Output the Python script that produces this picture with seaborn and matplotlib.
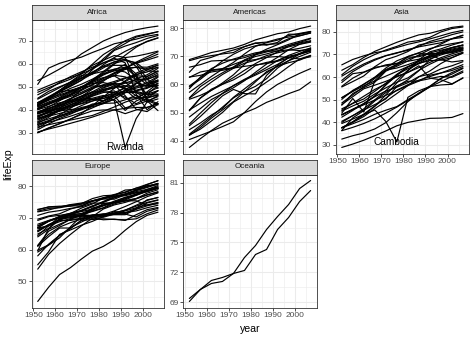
import numpy as np
import pandas as pd
import matplotlib
matplotlib.use("Agg")
import matplotlib.pyplot as plt
import seaborn as sns
from matplotlib.ticker import FixedLocator

years = [1952, 1957, 1962, 1967, 1972, 1977, 1982, 1987, 1992, 1997, 2002, 2007]

africa_countries = ["Algeria", "Angola", "Benin", "Botswana", "Burkina Faso", "Burundi", "Cameroon",
    "Central African Republic", "Chad", "Comoros", "Congo, Dem. Rep.", "Congo, Rep.", "Cote d'Ivoire",
    "Djibouti", "Egypt", "Equatorial Guinea", "Eritrea", "Ethiopia", "Gabon", "Gambia", "Ghana", "Guinea",
    "Guinea-Bissau", "Kenya", "Lesotho", "Liberia", "Libya", "Madagascar", "Malawi", "Mali", "Mauritania",
    "Mauritius", "Morocco", "Mozambique", "Namibia", "Niger", "Nigeria", "Reunion", "Rwanda",
    "Sao Tome and Principe", "Senegal", "Sierra Leone", "Somalia", "South Africa", "Sudan", "Swaziland",
    "Tanzania", "Togo", "Tunisia", "Uganda", "Zambia", "Zimbabwe"]
africa_lifeexp = [
    [43.1, 45.7, 48.3, 51.4, 54.5, 58.0, 61.4, 65.8, 67.7, 69.2, 71.0, 72.3],
    [30.0, 32.0, 34.0, 36.0, 37.9, 39.5, 39.9, 39.9, 40.6, 41.0, 41.0, 42.7],
    [38.2, 40.4, 42.6, 44.9, 47.0, 49.2, 50.9, 52.3, 53.9, 54.8, 54.4, 56.7],
    [47.6, 49.6, 51.5, 53.3, 56.0, 59.3, 61.5, 63.6, 62.7, 52.6, 46.6, 50.7],
    [32.0, 34.9, 37.8, 40.7, 43.6, 46.1, 48.1, 49.6, 50.3, 50.3, 50.7, 52.3],
    [39.0, 40.5, 42.0, 43.5, 44.1, 45.9, 47.5, 48.2, 44.7, 45.3, 47.4, 49.6],
    [38.5, 40.4, 42.6, 44.8, 47.0, 49.4, 53.0, 55.0, 54.3, 52.2, 49.9, 50.4],
    [35.5, 37.5, 39.5, 41.5, 43.5, 46.8, 48.3, 50.5, 49.4, 46.1, 43.3, 44.7],
    [38.1, 39.9, 41.7, 43.6, 45.6, 47.4, 49.5, 51.1, 51.7, 51.6, 50.5, 50.7],
    [40.7, 42.5, 44.5, 46.5, 48.9, 50.9, 52.9, 54.9, 57.9, 60.7, 63.0, 65.2],
    [39.1, 40.7, 42.1, 44.1, 46.0, 47.8, 47.8, 47.4, 45.5, 42.6, 45.0, 46.5],
    [42.1, 45.1, 48.4, 52.0, 54.9, 55.6, 56.7, 57.5, 56.4, 53.0, 53.0, 55.3],
    [40.5, 42.5, 44.9, 47.4, 49.8, 52.4, 54.0, 54.7, 52.0, 48.0, 46.8, 48.3],
    [34.8, 37.3, 39.7, 42.1, 44.4, 46.5, 48.8, 50.0, 51.6, 53.2, 53.4, 54.8],
    [41.9, 44.4, 47.0, 49.3, 51.1, 53.3, 56.0, 59.8, 63.7, 67.2, 69.8, 71.3],
    [34.5, 36.0, 37.5, 39.0, 40.5, 42.0, 43.7, 45.7, 47.5, 48.2, 49.3, 51.6],
    [35.9, 38.0, 40.2, 42.2, 44.1, 44.5, 43.9, 46.5, 50.0, 53.4, 55.2, 58.0],
    [34.1, 36.7, 40.1, 42.1, 43.5, 44.5, 44.9, 46.7, 48.1, 49.4, 50.7, 52.9],
    [37.0, 39.0, 40.5, 44.6, 48.7, 52.8, 56.6, 60.2, 61.4, 60.5, 56.8, 56.7],
    [30.0, 32.1, 33.9, 35.9, 38.3, 41.8, 45.6, 49.3, 52.6, 55.9, 58.0, 59.4],
    [43.1, 44.8, 46.5, 48.1, 49.9, 51.8, 53.7, 55.7, 57.5, 58.6, 58.5, 60.0],
    [33.6, 34.6, 35.8, 37.2, 38.8, 40.8, 42.9, 45.6, 48.6, 51.5, 53.7, 56.0],
    [32.5, 33.5, 34.5, 35.5, 36.5, 37.5, 39.3, 41.2, 43.3, 44.9, 45.5, 46.4],
    [42.3, 44.7, 47.9, 50.7, 53.6, 56.2, 58.8, 59.3, 59.3, 54.4, 51.0, 54.1],
    [42.1, 45.0, 47.7, 48.5, 49.8, 52.2, 55.1, 57.2, 59.7, 55.6, 44.6, 42.6],
    [38.5, 39.5, 40.5, 41.5, 42.6, 43.8, 44.9, 46.0, 40.8, 42.2, 43.8, 45.7],
    [42.7, 45.3, 47.8, 50.2, 52.8, 57.4, 62.2, 66.2, 68.8, 71.6, 72.7, 74.0],
    [36.7, 38.9, 40.8, 42.9, 44.9, 46.9, 49.0, 49.4, 52.2, 55.0, 57.3, 59.4],
    [36.3, 37.2, 38.4, 39.5, 41.8, 43.8, 45.6, 47.5, 49.4, 47.5, 45.0, 48.3],
    [33.7, 35.3, 36.9, 38.5, 40.0, 41.7, 43.9, 46.4, 48.4, 49.9, 51.8, 54.5],
    [40.5, 42.3, 44.2, 46.3, 48.4, 50.9, 53.6, 56.1, 58.3, 60.4, 62.2, 64.2],
    [51.0, 58.1, 60.2, 61.6, 62.9, 64.9, 66.7, 68.7, 69.7, 70.7, 72.0, 72.8],
    [42.9, 45.4, 47.9, 50.3, 52.9, 55.7, 59.6, 62.7, 65.4, 67.7, 69.6, 71.2],
    [31.3, 33.8, 36.2, 38.1, 40.3, 42.5, 42.8, 42.9, 44.3, 46.3, 44.0, 42.1],
    [41.7, 45.2, 48.4, 51.2, 53.9, 56.4, 59.0, 60.8, 62.0, 58.9, 51.5, 52.9],
    [37.4, 38.6, 39.5, 40.1, 40.5, 41.3, 42.6, 44.6, 47.4, 51.3, 54.5, 56.9],
    [36.3, 37.8, 39.4, 41.0, 42.8, 44.5, 45.8, 46.9, 47.5, 47.5, 46.6, 46.9],
    [52.7, 55.1, 57.7, 60.5, 64.3, 67.1, 69.9, 71.9, 73.6, 74.8, 75.7, 76.4],
    [40.0, 41.5, 43.0, 44.1, 44.6, 45.0, 46.2, 44.0, 23.6, 36.1, 43.4, 46.2],
    [46.5, 48.9, 51.9, 54.4, 56.5, 58.5, 60.4, 61.7, 62.7, 63.3, 64.3, 65.5],
    [37.3, 39.3, 41.5, 43.6, 45.8, 48.9, 52.4, 55.8, 58.2, 60.2, 61.6, 63.1],
    [30.3, 31.6, 32.8, 34.1, 35.4, 36.8, 38.4, 40.0, 38.3, 39.9, 41.0, 42.6],
    [33.0, 35.0, 37.0, 39.0, 41.0, 42.0, 43.0, 44.5, 39.7, 43.8, 45.9, 48.2],
    [45.0, 48.0, 50.0, 51.9, 53.7, 55.5, 58.2, 60.8, 61.9, 60.2, 53.4, 49.3],
    [38.6, 39.6, 40.9, 42.9, 45.1, 47.8, 50.3, 51.7, 53.6, 55.4, 56.4, 58.6],
    [41.4, 43.4, 45.0, 46.6, 49.6, 52.5, 55.6, 57.7, 58.5, 54.3, 43.9, 39.6],
    [41.2, 43.0, 44.2, 45.8, 47.6, 49.9, 50.6, 51.5, 50.4, 48.5, 49.7, 52.5],
    [38.6, 41.2, 43.9, 46.8, 49.8, 52.9, 55.5, 56.9, 58.1, 58.4, 57.6, 58.4],
    [44.6, 47.1, 49.6, 52.1, 55.6, 59.8, 64.0, 66.9, 70.0, 72.0, 73.0, 73.9],
    [40.0, 42.6, 45.3, 48.1, 49.8, 50.4, 49.8, 51.5, 48.8, 44.6, 47.8, 51.5],
    [42.0, 44.1, 46.0, 47.8, 50.1, 51.4, 51.8, 50.8, 46.1, 40.2, 39.2, 42.4],
    [48.5, 50.5, 52.4, 54.0, 55.6, 57.7, 60.4, 62.4, 60.4, 46.8, 40.0, 43.5],
]

americas_countries = ["Argentina", "Bolivia", "Brazil", "Canada", "Chile", "Colombia", "Costa Rica", "Cuba",
    "Dominican Republic", "Ecuador", "El Salvador", "Guatemala", "Haiti", "Honduras", "Jamaica", "Mexico",
    "Nicaragua", "Panama", "Paraguay", "Peru", "Puerto Rico", "Trinidad and Tobago", "United States",
    "Uruguay", "Venezuela"]
americas_lifeexp = [
    [62.5, 64.4, 65.1, 65.6, 67.1, 68.5, 69.9, 70.8, 71.9, 73.3, 74.3, 75.3],
    [40.4, 41.9, 43.4, 45.0, 46.7, 50.0, 53.9, 57.3, 60.0, 62.0, 63.9, 65.6],
    [50.9, 53.3, 55.7, 57.6, 59.5, 61.5, 63.3, 65.2, 67.1, 69.4, 71.0, 72.4],
    [68.8, 70.0, 71.3, 72.1, 72.9, 74.2, 75.8, 76.9, 78.0, 78.6, 79.8, 80.7],
    [54.7, 56.1, 57.9, 60.5, 63.4, 67.1, 70.6, 72.5, 74.1, 75.8, 77.9, 78.6],
    [50.6, 55.1, 57.9, 60.0, 61.6, 63.8, 66.7, 67.8, 68.4, 70.3, 71.7, 72.9],
    [57.2, 60.0, 62.8, 65.4, 67.8, 70.8, 73.5, 74.8, 75.7, 77.3, 78.1, 78.8],
    [59.4, 62.3, 65.2, 68.3, 70.7, 72.6, 73.7, 74.2, 74.4, 76.2, 77.2, 78.3],
    [45.9, 49.8, 53.5, 56.8, 59.6, 61.8, 63.7, 66.0, 68.5, 70.0, 70.8, 72.2],
    [48.4, 51.4, 54.6, 56.7, 58.8, 61.3, 64.3, 67.2, 69.6, 72.3, 74.2, 75.0],
    [45.3, 48.6, 52.3, 55.9, 58.2, 56.7, 56.6, 63.2, 66.8, 69.5, 70.7, 71.9],
    [42.0, 44.1, 47.0, 50.0, 53.7, 56.0, 58.1, 60.8, 63.4, 66.3, 69.0, 70.3],
    [37.6, 40.7, 43.6, 46.2, 48.0, 49.9, 51.5, 53.6, 55.1, 56.7, 58.1, 60.9],
    [41.9, 44.7, 48.0, 50.9, 53.9, 57.4, 60.9, 64.5, 66.4, 67.7, 68.6, 70.2],
    [58.5, 62.6, 65.6, 67.5, 69.0, 70.1, 71.2, 71.8, 71.8, 72.3, 72.0, 72.6],
    [50.8, 55.2, 58.3, 60.1, 62.4, 65.0, 67.4, 69.5, 71.5, 73.7, 74.9, 76.2],
    [42.3, 45.4, 48.6, 51.9, 55.2, 57.5, 59.3, 62.0, 65.8, 68.4, 70.8, 72.9],
    [55.2, 59.2, 61.8, 64.1, 66.2, 68.7, 70.5, 71.5, 72.5, 73.7, 74.7, 75.5],
    [62.6, 63.2, 64.4, 65.0, 65.8, 66.4, 66.9, 67.4, 68.2, 69.4, 70.8, 71.8],
    [43.9, 46.3, 49.1, 51.4, 55.4, 58.4, 61.4, 64.1, 66.5, 68.4, 69.9, 71.4],
    [64.3, 68.5, 69.6, 71.1, 72.2, 73.4, 74.6, 73.9, 74.9, 77.8, 77.8, 78.7],
    [59.1, 61.8, 64.9, 65.4, 65.9, 68.3, 68.8, 69.6, 69.9, 69.5, 69.0, 69.8],
    [68.4, 69.5, 70.2, 70.8, 71.3, 73.4, 74.7, 75.0, 76.1, 76.8, 77.3, 78.2],
    [66.1, 67.0, 68.3, 68.5, 68.7, 69.5, 70.8, 71.9, 72.8, 74.2, 75.3, 76.4],
    [55.1, 57.9, 60.8, 63.5, 65.7, 67.5, 68.6, 70.2, 71.2, 72.1, 72.8, 73.7],
]

asia_countries = ["Afghanistan", "Bahrain", "Bangladesh", "Cambodia", "China", "Hong Kong, China", "India",
    "Indonesia", "Iran", "Iraq", "Israel", "Japan", "Jordan", "Korea, Dem. Rep.", "Korea, Rep.", "Kuwait",
    "Lebanon", "Malaysia", "Mongolia", "Myanmar", "Nepal", "Oman", "Pakistan", "Philippines", "Saudi Arabia",
    "Singapore", "Sri Lanka", "Syria", "Taiwan", "Thailand", "Vietnam", "West Bank and Gaza", "Yemen, Rep."]
asia_lifeexp = [
    [28.8, 30.3, 32.0, 34.0, 36.1, 38.4, 39.9, 40.8, 41.7, 41.8, 42.1, 43.8],
    [50.9, 53.8, 56.9, 59.9, 63.3, 65.6, 69.1, 70.8, 72.6, 73.9, 74.8, 75.6],
    [37.5, 39.3, 41.2, 43.5, 45.3, 46.9, 50.0, 52.8, 56.0, 59.4, 62.0, 64.1],
    [39.4, 41.4, 43.4, 45.4, 40.3, 31.2, 51.0, 53.9, 55.8, 56.5, 56.8, 59.7],
    [44.0, 50.5, 44.5, 58.4, 63.1, 64.0, 65.5, 67.3, 68.7, 70.4, 72.0, 73.0],
    [61.0, 64.8, 67.7, 70.0, 72.0, 73.6, 75.5, 76.2, 77.6, 80.0, 81.5, 82.2],
    [37.4, 40.2, 43.6, 47.2, 50.7, 54.2, 56.6, 58.6, 60.2, 61.8, 62.9, 64.7],
    [37.5, 39.9, 42.5, 46.0, 49.2, 52.7, 56.2, 60.1, 62.7, 66.0, 68.6, 70.7],
    [44.9, 47.2, 49.3, 52.5, 55.2, 57.7, 59.6, 63.0, 65.7, 68.0, 69.5, 71.0],
    [45.3, 48.4, 51.5, 54.5, 57.0, 60.4, 62.0, 65.0, 59.5, 58.8, 57.0, 59.5],
    [65.4, 67.8, 69.4, 70.8, 71.6, 73.1, 74.5, 75.6, 76.9, 78.3, 79.7, 80.7],
    [63.0, 65.5, 68.7, 71.4, 73.4, 75.4, 77.1, 78.7, 79.4, 80.7, 82.0, 82.6],
    [43.2, 45.7, 48.1, 51.6, 56.5, 61.1, 63.7, 65.9, 68.0, 69.8, 71.3, 72.5],
    [50.1, 54.1, 56.7, 59.9, 64.0, 67.2, 69.1, 70.6, 70.0, 67.7, 66.7, 67.3],
    [47.5, 52.7, 55.3, 57.7, 62.6, 64.8, 67.1, 69.8, 72.2, 74.6, 77.0, 78.6],
    [55.6, 58.0, 60.5, 64.6, 67.7, 69.3, 71.3, 74.2, 75.2, 76.2, 76.9, 77.6],
    [55.9, 59.5, 62.1, 63.9, 65.4, 66.1, 67.0, 67.9, 69.3, 70.3, 71.0, 72.0],
    [48.5, 52.1, 55.7, 59.4, 63.0, 65.3, 68.0, 69.5, 70.7, 71.9, 73.0, 74.2],
    [42.2, 45.2, 48.3, 51.3, 53.8, 55.5, 57.5, 60.2, 61.3, 63.6, 65.0, 66.8],
    [36.3, 41.9, 45.1, 49.4, 53.1, 56.1, 58.1, 58.3, 59.3, 60.3, 59.9, 62.1],
    [36.2, 37.7, 39.4, 41.5, 44.0, 46.7, 49.6, 52.5, 55.7, 59.4, 61.3, 63.8],
    [37.6, 40.1, 43.2, 47.0, 52.1, 57.4, 62.7, 67.7, 71.2, 72.5, 74.2, 75.6],
    [43.4, 45.6, 47.7, 49.8, 51.9, 54.0, 56.2, 58.2, 60.8, 61.8, 63.6, 65.5],
    [47.8, 51.3, 54.8, 56.4, 58.1, 60.1, 62.1, 64.2, 66.5, 68.6, 70.3, 71.7],
    [39.9, 42.9, 45.9, 49.9, 53.9, 58.7, 63.0, 66.3, 68.8, 70.5, 71.6, 72.8],
    [60.4, 63.2, 65.8, 67.9, 69.5, 70.8, 71.8, 73.6, 75.8, 77.2, 78.8, 80.0],
    [57.6, 61.5, 62.2, 64.3, 65.0, 65.9, 68.8, 69.0, 70.4, 70.5, 70.8, 72.4],
    [45.9, 48.3, 50.3, 53.7, 57.3, 61.2, 64.6, 67.0, 69.2, 71.5, 73.1, 74.1],
    [58.5, 62.4, 65.2, 67.5, 69.4, 70.6, 72.2, 73.4, 74.3, 75.2, 77.0, 78.4],
    [50.8, 53.6, 56.1, 58.3, 60.4, 62.5, 64.6, 66.1, 67.3, 67.5, 68.6, 70.6],
    [40.4, 42.9, 45.4, 47.8, 50.3, 55.8, 58.8, 62.8, 67.7, 70.7, 73.0, 74.2],
    [43.2, 45.7, 48.1, 51.6, 56.5, 60.8, 64.4, 67.0, 69.7, 71.1, 72.4, 73.4],
    [32.5, 34.0, 35.2, 37.0, 39.8, 44.2, 49.1, 52.9, 55.6, 58.0, 60.3, 62.7],
]

europe_countries = ["Albania", "Austria", "Belgium", "Bosnia and Herzegovina", "Bulgaria", "Croatia",
    "Czech Republic", "Denmark", "Finland", "France", "Germany", "Greece", "Hungary", "Iceland", "Ireland",
    "Italy", "Montenegro", "Netherlands", "Norway", "Poland", "Portugal", "Romania", "Serbia",
    "Slovak Republic", "Slovenia", "Spain", "Sweden", "Switzerland", "Turkey", "United Kingdom"]
europe_lifeexp = [
    [55.2, 59.3, 64.8, 66.2, 67.7, 68.9, 70.4, 72.0, 71.6, 73.0, 75.7, 76.4],
    [66.8, 67.5, 69.5, 70.1, 70.6, 72.2, 73.2, 74.9, 76.0, 77.5, 79.0, 79.8],
    [68.0, 69.2, 70.2, 70.9, 71.4, 72.8, 73.9, 75.3, 76.5, 77.5, 78.3, 79.4],
    [53.8, 58.5, 61.9, 64.8, 67.5, 69.9, 70.7, 71.1, 72.2, 73.2, 74.1, 74.9],
    [59.6, 66.6, 69.5, 70.4, 70.9, 70.8, 71.1, 71.3, 71.2, 70.3, 72.1, 73.0],
    [61.2, 64.8, 67.1, 68.5, 69.6, 70.6, 70.5, 71.5, 72.5, 73.7, 74.9, 75.7],
    [66.9, 69.0, 69.9, 70.4, 70.3, 70.7, 71.0, 71.6, 72.4, 74.0, 75.5, 76.5],
    [70.8, 71.8, 72.3, 73.0, 73.5, 74.7, 74.6, 74.8, 75.3, 76.1, 77.2, 78.3],
    [66.5, 67.5, 68.8, 69.8, 70.9, 72.5, 74.5, 74.8, 75.7, 77.1, 78.4, 79.3],
    [67.4, 68.9, 70.5, 71.5, 72.4, 73.8, 74.9, 76.3, 77.5, 78.6, 79.6, 80.7],
    [67.5, 69.1, 70.3, 70.8, 71.0, 72.5, 73.8, 74.8, 76.1, 77.3, 78.7, 79.4],
    [65.9, 67.9, 69.5, 71.0, 72.3, 73.7, 75.2, 76.7, 77.0, 77.9, 78.3, 79.5],
    [64.0, 66.4, 68.0, 69.5, 69.8, 70.0, 69.4, 69.6, 69.2, 71.0, 72.6, 73.3],
    [72.5, 73.5, 73.7, 73.7, 74.5, 76.1, 77.0, 77.2, 78.8, 79.0, 80.5, 81.8],
    [66.9, 68.9, 70.3, 71.1, 71.3, 72.0, 73.1, 74.4, 75.5, 76.1, 77.8, 78.9],
    [65.9, 67.8, 69.2, 71.1, 72.2, 73.5, 75.0, 76.4, 77.4, 78.8, 80.2, 80.5],
    [59.2, 61.4, 63.7, 67.2, 70.6, 73.1, 74.1, 74.9, 75.4, 75.4, 74.0, 74.5],
    [72.1, 73.0, 73.2, 73.8, 73.8, 75.2, 76.0, 76.8, 77.4, 78.0, 78.5, 79.8],
    [72.7, 73.4, 73.5, 74.1, 74.3, 75.4, 76.0, 75.9, 77.3, 78.3, 79.0, 80.2],
    [61.3, 65.8, 67.6, 69.6, 70.8, 70.7, 71.3, 71.0, 71.0, 72.8, 74.7, 75.6],
    [59.8, 61.5, 64.4, 66.6, 69.3, 70.4, 72.8, 74.1, 74.9, 76.0, 77.3, 78.1],
    [61.0, 64.1, 66.8, 66.8, 69.2, 69.5, 69.7, 69.5, 69.4, 69.7, 71.3, 72.5],
    [58.0, 61.7, 64.5, 66.9, 68.7, 70.3, 70.2, 71.2, 71.7, 72.2, 73.2, 74.0],
    [64.4, 67.5, 70.3, 71.0, 70.3, 70.5, 70.8, 71.1, 71.4, 72.7, 73.8, 74.7],
    [65.6, 67.8, 69.2, 69.2, 69.8, 71.0, 71.1, 72.2, 73.6, 75.1, 76.7, 77.9],
    [64.9, 66.7, 69.7, 71.4, 73.1, 74.4, 76.3, 76.9, 77.6, 78.8, 79.8, 80.9],
    [71.9, 72.5, 73.4, 74.2, 74.7, 75.4, 76.4, 77.2, 78.2, 79.4, 80.0, 80.9],
    [69.6, 70.6, 71.3, 72.8, 73.8, 75.4, 76.2, 77.4, 78.0, 79.4, 80.6, 81.7],
    [43.6, 48.1, 52.1, 54.3, 57.0, 59.5, 61.0, 63.1, 66.1, 68.8, 70.8, 71.8],
    [69.2, 70.4, 70.8, 71.4, 72.0, 72.8, 74.0, 75.0, 76.4, 77.2, 78.5, 79.4],
]

oceania_countries = ["Australia", "New Zealand"]
oceania_lifeexp = [
    [69.1, 70.3, 70.9, 71.1, 71.9, 73.5, 74.7, 76.3, 77.6, 78.8, 80.4, 81.2],
    [69.4, 70.3, 71.2, 71.5, 71.9, 72.2, 73.8, 74.3, 76.3, 77.5, 79.1, 80.2],
]

continents = ["Africa", "Americas", "Asia", "Europe", "Oceania"]
y_breaks = {
    "Africa": [30, 40, 50, 60, 70],
    "Americas": [40, 50, 60, 70, 80],
    "Asia": [30, 40, 50, 60, 70, 80],
    "Europe": [50, 60, 70, 80],
    "Oceania": [69, 72, 75, 78, 81],
}
x_breaks = [1950, 1960, 1970, 1980, 1990, 2000]
labelled = {"Africa": "Rwanda", "Asia": "Cambodia"}

rows = []
for cont, names, vals in [("Africa", africa_countries, africa_lifeexp),
                          ("Americas", americas_countries, americas_lifeexp),
                          ("Asia", asia_countries, asia_lifeexp),
                          ("Europe", europe_countries, europe_lifeexp),
                          ("Oceania", oceania_countries, oceania_lifeexp)]:
    for name, series in zip(names, vals):
        for yr, v in zip(years, series):
            rows.append((cont, name, yr, v))
df = pd.DataFrame(rows, columns=["continent", "country", "year", "lifeExp"])

sns.set_theme(style="white")
plt.rcParams["font.family"] = ["Liberation Sans", "DejaVu Sans"]

W, H = 474, 338
fig = plt.figure(figsize=(W / 100, H / 100), dpi=100)

cols = [(31.7, 164.0), (183.3, 316.7), (335.7, 469.0)]
rows_px = [((5.0, 20.0), (20.0, 153.5)), ((159.5, 174.5), (174.5, 307.5))]
layout = {"Africa": (0, 0), "Americas": (0, 1), "Asia": (0, 2), "Europe": (1, 0), "Oceania": (1, 1)}
show_x = {"Africa": False, "Americas": False, "Asia": True, "Europe": True, "Oceania": True}

def rect(x0, x1, y0, y1):
    return [x0 / W, 1 - y1 / H, (x1 - x0) / W, (y1 - y0) / H]

border = "#333333"
gridc = "#EBEBEB"
xmin, xmax = min(years), max(years)
xpad = 0.05 * (xmax - xmin)

for cont in continents:
    r, c = layout[cont]
    (s0, s1), (p0, p1) = rows_px[r]
    x0, x1 = cols[c]
    ax = fig.add_axes(rect(x0, x1, p0, p1))
    sub = df[df["continent"] == cont]
    sns.lineplot(data=sub, x="year", y="lifeExp", units="country", estimator=None,
                 color="black", linewidth=0.85, ax=ax, legend=False)
    lo, hi = sub["lifeExp"].min(), sub["lifeExp"].max()
    ypad = 0.05 * (hi - lo)
    ax.set_ylim(lo - ypad, hi + ypad)
    ax.set_xlim(xmin - xpad, xmax + xpad)
    yb = y_breaks[cont]
    step = yb[1] - yb[0]
    yminor = [b + step / 2 for b in [yb[0] - step] + yb]
    ax.yaxis.set_major_locator(FixedLocator(yb))
    ax.yaxis.set_minor_locator(FixedLocator(yminor))
    ax.xaxis.set_major_locator(FixedLocator(x_breaks))
    ax.xaxis.set_minor_locator(FixedLocator([b + 5 for b in x_breaks]))
    ax.set_axisbelow(True)
    ax.grid(which="major", color=gridc, linewidth=0.75)
    ax.grid(which="minor", color=gridc, linewidth=0.4)
    ax.tick_params(axis="both", which="major", length=2.0, width=0.6, color=border,
                   labelsize=6.0, labelcolor="#4D4D4D", pad=1.2)
    ax.tick_params(axis="both", which="minor", length=0)
    ax.tick_params(axis="x", bottom=True)
    ax.tick_params(axis="y", left=True)
    if not show_x[cont]:
        ax.tick_params(axis="x", bottom=False, labelbottom=False)
    ax.set_xlabel("")
    ax.set_ylabel("")
    for sp in ax.spines.values():
        sp.set_color(border)
        sp.set_linewidth(0.6)
        sp.set_visible(True)
    if cont in labelled:
        name = labelled[cont]
        cd = sub[sub["country"] == name]
        row = cd.loc[cd["lifeExp"].idxmin()]
        ax.text(row["year"], row["lifeExp"], name, ha="center", va="center",
                fontsize=7.3, color="black")
    # strip
    sax = fig.add_axes(rect(x0, x1, s0, s1))
    sax.set_facecolor("#D9D9D9")
    sax.set_xticks([])
    sax.set_yticks([])
    for sp in sax.spines.values():
        sp.set_color(border)
        sp.set_linewidth(0.6)
        sp.set_visible(True)
    sax.text(0.5, 0.5, cont, ha="center", va="center", fontsize=5.9,
             color="#1A1A1A", transform=sax.transAxes)

fig.text(250.4 / W, 1 - 328.5 / H, "year", ha="center", va="center", fontsize=7.6, color="black")
fig.text(8.0 / W, 1 - 164 / H, "lifeExp", ha="center", va="center", rotation=90,
         fontsize=7.6, color="black")

fig.savefig("out.png", dpi=100)
